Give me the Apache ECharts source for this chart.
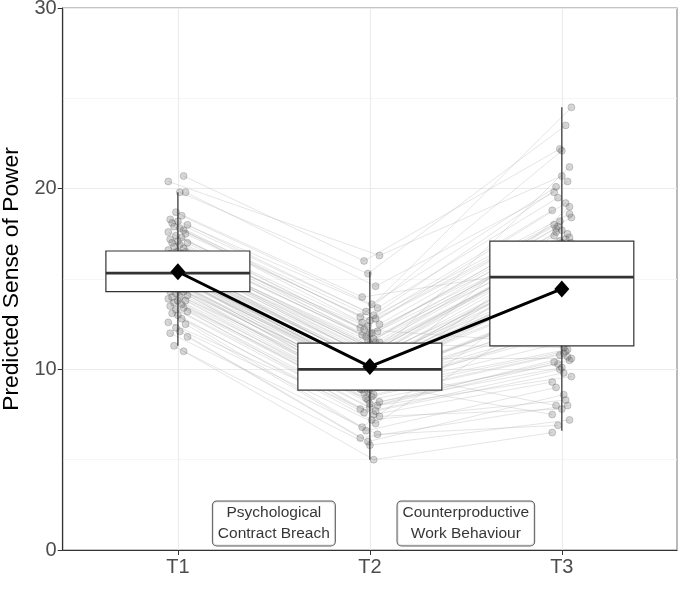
<!DOCTYPE html>
<html>
<head>
<meta charset="utf-8">
<script src="https://cdn.jsdelivr.net/npm/echarts@6/dist/echarts.min.js"></script>
<style>
html, body { margin: 0; padding: 0; background: #fff; }
#main { width: 685px; height: 610px; }
</style>
</head>
<body>
<div id="main"></div>
<script>
const times = ['T1', 'T2', 'T3'];

// predicted sense of power per participant (same order in every array)
const t1 = [
    11.0, 11.3, 11.8, 12.0, 12.1, 12.3, 12.5, 12.6, 12.8, 13.0,
    13.1, 13.2, 13.3, 13.4, 13.5, 13.6, 13.7, 13.8, 13.8, 13.9,
    14.0, 14.0, 14.1, 14.2, 14.3, 14.3, 14.4, 14.4, 14.5, 14.5,
    14.6, 14.6, 14.7, 14.7, 14.8, 14.8, 14.9, 14.9, 15.0, 15.0,
    15.0, 15.1, 15.1, 15.1, 15.2, 15.2, 15.2, 15.3, 15.3, 15.3,
    15.4, 15.4, 15.5, 15.5, 15.6, 15.6, 15.7, 15.7, 15.8, 15.8,
    15.9, 15.9, 16.0, 16.0, 16.1, 16.1, 16.2, 16.2, 16.3, 16.3,
    16.4, 16.4, 16.5, 16.5, 16.5, 16.6, 16.7, 16.8, 16.9, 17.0,
    17.0, 17.1, 17.2, 17.3, 17.4, 17.5, 17.6, 17.7, 17.8, 17.9,
    18.0, 18.1, 18.2, 18.3, 18.5, 18.7, 19.8, 19.8, 20.4, 20.7
];
const t2 = [
    5.8, 5.0, 6.2, 6.4, 6.0, 7.0, 6.6, 7.4, 6.8, 7.2,
    7.6, 7.9, 7.5, 7.8, 7.7, 8.3, 8.0, 8.4, 8.1, 8.2,
    8.7, 8.5, 8.9, 8.6, 8.8, 9.0, 8.9, 9.1, 8.9, 9.0,
    9.3, 9.1, 9.2, 9.3, 9.2, 9.5, 9.4, 9.6, 9.4, 9.5,
    9.7, 9.8, 9.6, 9.8, 9.7, 10.0, 9.9, 10.0, 9.9, 10.0,
    10.2, 10.1, 10.3, 10.1, 10.2, 10.4, 10.5, 10.3, 10.5, 10.4,
    10.7, 10.6, 10.8, 10.6, 10.8, 11.0, 10.9, 11.1, 10.9, 11.1,
    11.3, 11.2, 11.4, 11.3, 11.5, 11.6, 11.5, 11.9, 11.7, 11.8,
    12.1, 12.0, 12.3, 12.0, 12.2, 12.5, 12.4, 12.8, 12.6, 12.7,
    13.0, 12.9, 13.4, 13.2, 13.6, 14.0, 14.6, 15.3, 16.3, 16.0
];
const t3 = [
    7.2, 6.5, 8.0, 6.9, 8.6, 14.0, 9.0, 7.8, 14.6, 8.3,
    10.0, 10.5, 9.3, 10.7, 9.8, 10.3, 9.6, 16.2, 10.1, 10.4,
    11.0, 10.8, 19.0, 10.9, 12.0, 11.1, 12.2, 16.9, 11.6, 11.8,
    13.0, 13.6, 12.4, 7.5, 12.8, 13.4, 12.6, 13.8, 13.2, 13.5,
    14.4, 14.1, 14.7, 14.2, 15.0, 14.5, 15.1, 8.0, 14.8, 14.9,
    15.5, 15.9, 15.2, 16.1, 15.4, 21.2, 15.3, 16.0, 15.6, 15.8,
    16.4, 10.6, 16.6, 16.3, 16.8, 16.5, 16.8, 16.5, 16.6, 16.7,
    17.0, 17.4, 11.2, 17.6, 17.0, 17.2, 16.9, 17.5, 17.1, 17.3,
    17.9, 17.7, 18.4, 17.8, 11.4, 18.0, 19.2, 18.2, 18.6, 18.8,
    20.4, 22.1, 19.5, 24.5, 20.1, 15.7, 19.8, 23.5, 20.7, 22.2
];

// horizontal jitter, hundredths of one time step
const jitter = [
    3, -2, 5, -4, 1, -1, 4, -5, 2, 0,
    -3, 5, -1, 3, -4, 2, -2, 4, 0, -5,
    1, -3, 5, -1, 3, -4, 0, 2, -5, 4,
    -2, 1, -4, 3, -1, 5, -3, 0, 2, -5,
    4, -1, 3, -2, 5, -4, 1, -3, 0, 2,
    -5, 3, -1, 4, -2, 0, 5, -3, 1, -4,
    2, -1, 4, -5, 3, 0, -2, 5, -3, 1,
    -4, 2, 0, -1, 4, -5, 3, -2, 1, 5,
    -3, 0, -4, 2, -1, 4, -5, 3, 1, -2,
    5, -3, 0, -4, 2, -1, 4, 1, -5, 3
];

// [min, Q1, median, Q3, max] per time point
const boxStats = [
    [11.3, 14.3, 15.33, 16.55, 19.8],
    [5.0, 8.85, 10.0, 11.45, 15.4],
    [6.6, 11.3, 15.1, 17.1, 24.5]
];
const means = [15.4, 10.15, 14.45];

const noteTexts = ['Psychological\nContract Breach', 'Counterproductive\nWork Behaviour'];
const noteAt = [1.5, 2.5];

const font = 'Liberation Sans, Arial, Helvetica, sans-serif';
const chart = echarts.init(document.getElementById('main'));

const people = [t1, t2, t3];
const n = t1.length;
const jx = (i, k) => k + 1 + jitter[(i + k * 37) % n] / 100;

let series = [];
let points = [];
for (let i = 0; i < n; i++) {
    const row = people.map((arr, k) => [jx(i, k), arr[i]]);
    points = points.concat(row);
    series.push({
        type: 'line',
        data: row,
        symbol: 'none',
        silent: true,
        z: 1,
        lineStyle: { color: 'rgba(160,160,160,0.28)', width: 1 }
    });
}

series.push({
    type: 'scatter',
    data: points,
    symbolSize: 7,
    silent: true,
    z: 2,
    itemStyle: { color: 'rgba(100,100,100,0.33)', borderColor: 'rgba(60,60,60,0.35)', borderWidth: 0.8 }
});

series.push({
    type: 'custom',
    z: 3,
    silent: true,
    encode: { x: 0, y: [1, 2, 3, 4, 5] },
    data: boxStats.map((b, k) => [k + 1].concat(b)),
    renderItem: function (params, api) {
        const x = api.value(0);
        const pMin = api.coord([x, api.value(1)]);
        const pMax = api.coord([x, api.value(5)]);
        const pQ1 = api.coord([x - 0.375, api.value(2)]);
        const pQ3 = api.coord([x + 0.375, api.value(4)]);
        const pMed = api.coord([x, api.value(3)]);
        return {
            type: 'group',
            children: [
                { type: 'line', shape: { x1: pMin[0], y1: pMin[1], x2: pMax[0], y2: pMax[1] },
                  style: { stroke: '#333', lineWidth: 1.2 } },
                { type: 'rect', shape: { x: pQ1[0], y: pQ3[1], width: pQ3[0] - pQ1[0], height: pQ1[1] - pQ3[1] },
                  style: { fill: '#fff', stroke: '#333', lineWidth: 1.2 } },
                { type: 'line', shape: { x1: pQ1[0], y1: pMed[1], x2: pQ3[0], y2: pMed[1] },
                  style: { stroke: '#333', lineWidth: 2.8 } }
            ]
        };
    }
});

series.push({
    type: 'line',
    data: means.map((m, k) => [k + 1, m]),
    symbol: 'diamond',
    symbolSize: [15, 17],
    z: 5,
    silent: true,
    lineStyle: { color: '#000', width: 3 },
    itemStyle: { color: '#000' }
});

series.push({
    type: 'scatter',
    data: noteAt.map((x, k) => ({ value: [x, 1.47], name: noteTexts[k] })),
    symbolSize: 0,
    silent: true,
    z: 6,
    label: {
        show: true,
        position: 'inside',
        formatter: p => p.name,
        fontFamily: font,
        fontSize: 15.5,
        lineHeight: 21,
        color: '#000',
        backgroundColor: '#fff',
        borderColor: '#333',
        borderWidth: 1,
        borderRadius: 4,
        padding: [1, 5, 1, 5]
    }
});

const option = {
    backgroundColor: '#fff',
    animation: false,
    textStyle: { fontFamily: font },
    grid: {
        left: 62.7, right: 8, top: 8, bottom: 60,
        show: true, borderColor: '#8c8c8c', borderWidth: 1.2,
        outerBoundsMode: 'none'
    },
    xAxis: {
        type: 'value',
        min: 0.4,
        max: 3.6,
        axisLine: { show: true, onZero: false, lineStyle: { color: '#333', width: 1.2 } },
        axisTick: { show: true, customValues: [1, 2, 3], length: 5, lineStyle: { color: '#333' } },
        axisLabel: {
            customValues: [1, 2, 3],
            formatter: v => times[Math.round(v) - 1],
            fontSize: 20, color: '#4d4d4d', margin: 7, fontFamily: font
        },
        splitLine: { show: true, lineStyle: { color: '#ebebeb', width: 1.1 } }
    },
    yAxis: {
        type: 'value',
        min: 0,
        max: 30,
        interval: 10,
        name: 'Predicted Sense of Power',
        nameLocation: 'middle',
        nameGap: 31,
        nameTextStyle: { fontSize: 22.8, color: '#000', fontFamily: font },
        axisLine: { show: true, lineStyle: { color: '#333', width: 1.2 } },
        axisTick: { show: true, length: 5, lineStyle: { color: '#333' } },
        axisLabel: { fontSize: 20, color: '#4d4d4d', margin: 6, fontFamily: font },
        splitLine: { show: true, lineStyle: { color: '#ebebeb', width: 1.1 } },
        minorTick: { show: false, splitNumber: 2 },
        minorSplitLine: { show: true, lineStyle: { color: '#f4f4f4', width: 0.8 } }
    },
    series: series
};

chart.setOption(option);
window.addEventListener('resize', function () {
    chart.resize();
});
</script>
</body>
</html>
